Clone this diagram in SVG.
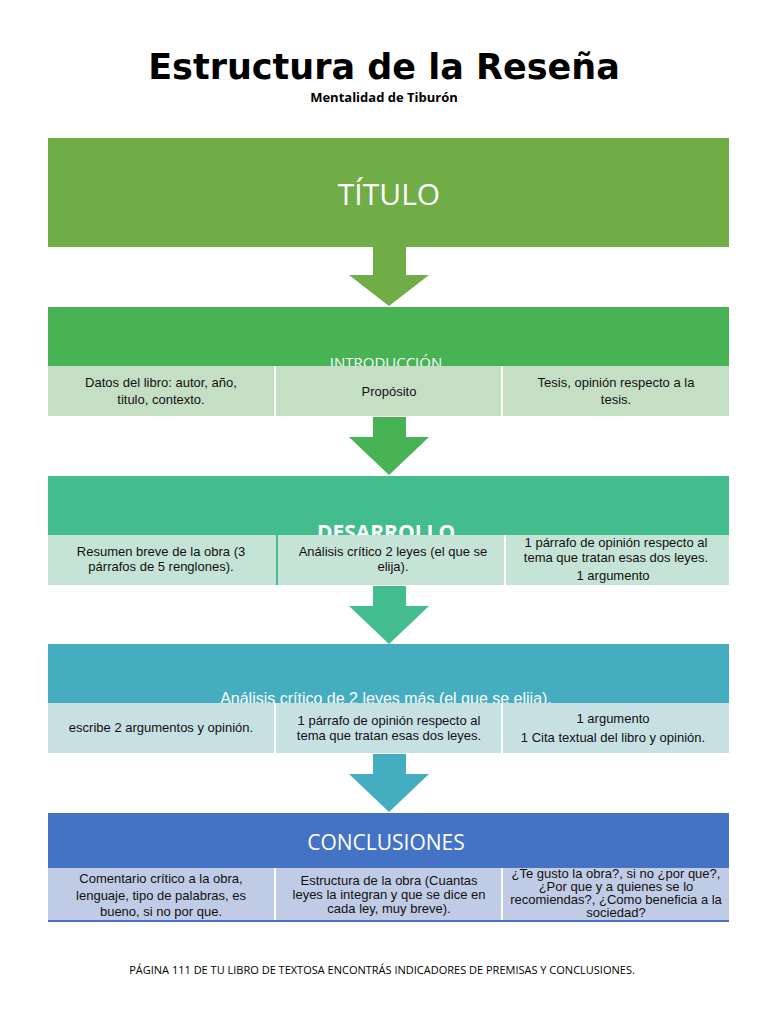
<svg xmlns="http://www.w3.org/2000/svg" width="768" height="1024" viewBox="0 0 768 1024">
<style>
text{font-family:"Liberation Sans",Arial,sans-serif;text-anchor:middle}
.h{fill:#fff}
.c{font-size:13px;fill:#111}
.sep{stroke:#fff;stroke-width:2}
</style>
<rect width="768" height="1024" fill="#fff"/>
<text x="384" y="79" font-family="DejaVu Sans" font-weight="bold" font-size="35" style="font-family:'DejaVu Sans',sans-serif">Estructura de la Reseña</text>
<text x="384" y="102" font-size="13" font-weight="bold" style="font-family:'Open Sans',sans-serif">Mentalidad de Tiburón</text>
<g id="connectors">
<polygon points="373,247 406,247 406,275 429,275 389,306 349,275 373,275" fill="#70ad47"/>
<polygon points="373,417 406,417 406,437 429,437 389,475 349,437 373,437" fill="#47b354"/>
<polygon points="373,586 406,586 406,606 429,606 389,644 349,606 373,606" fill="#43bd8e"/>
<polygon points="373,754 406,754 406,774 429,774 389,812 349,774 373,774" fill="#44aec0"/>
</g>
<g id="titulo">
<rect x="48" y="138" width="681" height="109" fill="#70ad47"/>
<text class="h" x="389" y="205" font-size="30" style="font-family:'Open Sans',sans-serif">TÍTULO</text>
</g>
<g id="introduccion">
<rect x="48" y="307" width="681" height="59" fill="#47b354"/>
<text class="h" x="386" y="368" font-size="15" style="font-family:'Open Sans',sans-serif">INTRODUCCIÓN</text>
<rect x="48" y="366" width="681" height="50" fill="#c5dfc5"/>
<line class="sep" x1="275" y1="366" x2="275" y2="416"/><line class="sep" x1="502" y1="366" x2="502" y2="416"/>
<text class="c" font-size="14" x="161" y="387">Datos del libro: autor, año,</text>
<text class="c" font-size="14" x="161" y="404">titulo, contexto.</text>
<text class="c" font-size="14" x="389" y="396">Propósito</text>
<text class="c" font-size="14" x="616" y="387">Tesis, opinión respecto a la</text>
<text class="c" font-size="14" x="616" y="404">tesis.</text>
</g>
<g id="desarrollo">
<rect x="48" y="476" width="681" height="59" fill="#43bd8e"/>
<text class="h" x="386" y="540" font-size="21" font-weight="bold" style="font-family:'Open Sans',sans-serif">DESARROLLO</text>
<rect x="48" y="535" width="681" height="50" fill="#c5e3d6"/>
<line x1="277" y1="535" x2="277" y2="585" stroke="#43bd8e" stroke-width="2"/><line class="sep" x1="505" y1="535" x2="505" y2="585"/>
<text class="c" x="161" y="556">Resumen breve de la obra (3</text>
<text class="c" x="161" y="571">párrafos de 5 renglones).</text>
<text class="c" x="393" y="556">Análisis crítico 2  leyes (el que se</text>
<text class="c" x="393" y="571">elija).</text>
<text class="c" x="616" y="547">1 párrafo de opinión respecto al</text>
<text class="c" x="616" y="562">tema que tratan esas dos leyes.</text>
<text class="c" x="613" y="580">1 argumento</text>
</g>
<g id="analisis">
<rect x="48" y="644" width="681" height="59" fill="#44aec0"/>
<text class="h" x="386" y="704" font-size="16">Análisis crítico  de 2  leyes más (el que se elija).</text>
<rect x="48" y="703" width="681" height="50" fill="#c6e0e4"/>
<line class="sep" x1="275" y1="703" x2="275" y2="753"/><line class="sep" x1="502" y1="703" x2="502" y2="753"/>
<text class="c" x="161" y="732">escribe 2 argumentos y opinión.</text>
<text class="c" x="389" y="725">1 párrafo de opinión respecto al</text>
<text class="c" x="389" y="740">tema que tratan esas dos leyes.</text>
<text class="c" x="613" y="723">1 argumento</text>
<text class="c" x="613" y="742">1 Cita textual del libro y opinión.</text>
</g>
<g id="conclusiones">
<rect x="48" y="813" width="681" height="55" fill="#4472c4"/>
<text class="h" x="386" y="850" font-size="21" style="font-family:'Open Sans',sans-serif">CONCLUSIONES</text>
<rect x="48" y="868" width="681" height="52" fill="#c0cbe5"/>
<line x1="48" y1="921" x2="729" y2="921" stroke="#4472c4" stroke-width="2"/>
<line class="sep" x1="275" y1="868" x2="275" y2="920"/><line class="sep" x1="502" y1="868" x2="502" y2="920"/>
<text class="c" font-size="15" x="161" y="883">Comentario crítico a la obra,</text>
<text class="c" font-size="15" x="161" y="900">lenguaje, tipo de palabras, es</text>
<text class="c" font-size="15" x="161" y="916">bueno, si no por que.</text>
<text class="c" x="389" y="885">Estructura de la obra (Cuantas</text>
<text class="c" x="389" y="899">leyes la integran y que se dice en</text>
<text class="c" x="389" y="913">cada ley, muy breve).</text>
<text class="c" font-size="12" x="616" y="878">¿Te gusto la obra?, si no ¿por que?,</text>
<text class="c" font-size="12" x="616" y="891">¿Por que y a quienes se lo</text>
<text class="c" font-size="12" x="616" y="904">recomiendas?, ¿Como beneficia a la</text>
<text class="c" font-size="12" x="616" y="917">sociedad?</text>
</g>
<text x="382" y="974" font-size="11" style="font-family:'Open Sans',sans-serif">PÁGINA 111 DE TU LIBRO DE TEXTOSA ENCONTRÁS INDICADORES DE PREMISAS Y CONCLUSIONES.</text>
</svg>
